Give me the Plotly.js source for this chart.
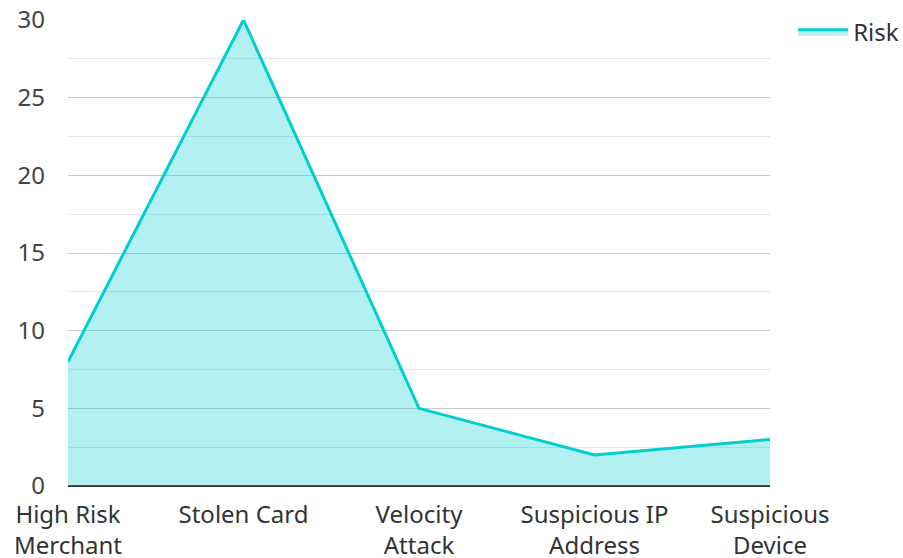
<!DOCTYPE html>
<html>
<head>
<meta charset="utf-8">
<script src="https://cdn.plot.ly/plotly-3.0.1.min.js"></script>
<style>html,body{margin:0;padding:0;background:#fff;}#chart{width:903px;height:558px;}</style>
</head>
<body>
<div id="chart"></div>
<script>
const categories = ["High Risk<br>Merchant", "Stolen Card", "Velocity<br>Attack", "Suspicious IP<br>Address", "Suspicious<br>Device"];
const riskValues = [8, 30, 5, 2, 3];
const seriesName = "Risk";

const trace = {
  type: "scatter",
  mode: "lines",
  x: categories,
  y: riskValues,
  name: seriesName,
  fill: "tozeroy",
  fillcolor: "rgba(0,206,209,0.3)",
  line: {color: "#00CED1", width: 3}
};

const layout = {
  width: 903, height: 558,
  margin: {l: 68, r: 133, t: 20, b: 72, autoexpand: false},
  paper_bgcolor: "#fff", plot_bgcolor: "#fff",
  font: {family: "Noto Sans, sans-serif", size: 24, color: "#333"},
  showlegend: true,
  legend: {x: 1.033, y: 1.022, xanchor: "left", yanchor: "top", itemwidth: 50, font: {size: 24, color: "#333"}},
  xaxis: {
    type: "category",
    range: [0, 4],
    showgrid: false,
    zeroline: false,
    showline: false,
    ticks: "",
    ticklabelstandoff: 12,
    tickfont: {size: 24, color: "#333"}
  },
  yaxis: {
    range: [0, 30],
    dtick: 5,
    tick0: 0,
    showgrid: true,
    gridcolor: "#c8c8c8",
    gridwidth: 1,
    minor: {dtick: 2.5, showgrid: true, gridcolor: "#e6e6e6", gridwidth: 1},
    zeroline: true,
    zerolinecolor: "#333",
    zerolinewidth: 2,
    showline: false,
    ticks: "",
    ticklabelstandoff: 22,
    tickfont: {size: 24, color: "#444"}
  }
};

Plotly.newPlot("chart", [trace], layout, {displayModeBar: false, staticPlot: true});
</script>
</body>
</html>
